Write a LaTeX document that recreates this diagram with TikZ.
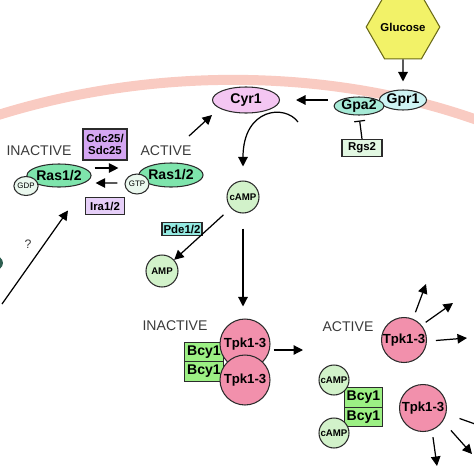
\documentclass[tikz,border=0pt]{standalone}
\usepackage{fontspec}
\setmainfont{Liberation Sans}
\usetikzlibrary{shapes.geometric}
\usetikzlibrary{arrows.meta}

\definecolor{membr}{HTML}{F9CBC2}
\definecolor{edgec}{HTML}{2B2B2B}
\definecolor{glcfill}{HTML}{F2F268}
\definecolor{glcdraw}{HTML}{6A6A18}
\definecolor{cyrfill}{HTML}{F4C6F2}
\definecolor{gpafill}{HTML}{A6EAD6}
\definecolor{gprfill}{HTML}{CDF4F4}
\definecolor{rgsfill}{HTML}{E2F8E2}
\definecolor{cdcfill}{HTML}{D4A6F2}
\definecolor{irafill}{HTML}{E6CFF8}
\definecolor{rasfill}{HTML}{7EE4AC}
\definecolor{nucfill}{HTML}{EAF8EE}
\definecolor{campfill}{HTML}{D2F2CA}
\definecolor{pdefill}{HTML}{94EAE2}
\definecolor{tpkfill}{HTML}{F290AC}
\definecolor{bcyfill}{HTML}{9CF084}
\definecolor{lbl}{HTML}{3A3A3A}
\definecolor{blob}{HTML}{2E5E50}

\newcommand\fsz[1]{\fontsize{#1}{#1}\selectfont}

\begin{document}
\begin{tikzpicture}[x=0.02cm, y=-0.02cm,
  prot/.style={draw=edgec, ellipse, inner sep=0pt, line width=.6pt, font=\bfseries\fsz{8pt}},
  ball/.style={draw=edgec, circle, inner sep=0pt, line width=.6pt, fill=campfill, font=\bfseries\fsz{5.5pt}},
  tpk/.style={draw=edgec, circle, inner sep=0pt, line width=.6pt, fill=tpkfill, font=\bfseries\fsz{7.5pt}},
  reg/.style={draw=edgec, rectangle, inner sep=1pt, line width=.6pt, font=\bfseries\fsz{6.5pt}},
  bcy/.style={draw=edgec, rectangle, inner sep=0pt, line width=.6pt, fill=bcyfill,
    minimum width=0.77cm, minimum height=0.39cm, font=\bfseries\fsz{8pt}},
  state/.style={text=lbl, font=\fsz{8pt}, inner sep=0pt}]
\def\l{1.9mm}
\def\w{1.9mm}
\useasboundingbox (0,0) rectangle (474,474);
% plasma membrane
\draw [membr, line width=0.2cm] (-5,116) .. controls (150,67) and (330,67) .. (480,121);
% receptor side
\node [draw=glcdraw, fill=glcfill, regular polygon, regular polygon sides=6, minimum size=1.1cm,
  inner sep=0pt, line width=.6pt, font=\bfseries\fsz{6.5pt}, name=glc] at (403,27) {Glucose};
\node [prot, fill=cyrfill, minimum width=1.34cm, minimum height=0.52cm, name=cyr] at (246,100) {Cyr1};
\node [prot, fill=gprfill, minimum width=0.94cm, minimum height=0.40cm, name=gpr] at (403,100) {Gpr1};
\node [prot, fill=gpafill, minimum width=0.84cm, minimum height=0.34cm, name=gpa] at (359,106) {Gpa2};
\node [reg, fill=rgsfill, minimum width=0.8cm, minimum height=0.34cm, name=rgs] at (362,148) {Rgs2};
% Ras cycle
\node [state, name=inact1] at (39,151) {INACTIVE};
\node [state, name=act1] at (166,151) {ACTIVE};
\node [reg, fill=cdcfill, minimum width=0.88cm, minimum height=0.62cm, align=center, name=cdc] at (105,144.5) {Cdc25/\\Sdc25};
\node [reg, fill=irafill, minimum width=0.78cm, minimum height=0.34cm, name=ira] at (105,206) {Ira1/2};
\node [prot, fill=rasfill, minimum width=1.12cm, minimum height=0.46cm, name=rasI] at (59,175.5) {Ras1/2};
\node [prot, fill=rasfill, minimum width=1.14cm, minimum height=0.48cm, name=rasA] at (171,175) {Ras1/2};
\node [draw=edgec, ellipse, fill=nucfill, inner sep=0pt, line width=.6pt, minimum width=0.48cm,
  minimum height=0.38cm, font=\fsz{4.5pt}, name=gdp] at (26,186) {GDP};
\node [draw=edgec, ellipse, fill=nucfill, inner sep=0pt, line width=.6pt, minimum width=0.48cm,
  minimum height=0.40cm, font=\fsz{4.5pt}, name=gtp] at (137,184) {GTP};
\node [draw=none, ellipse, fill=blob, minimum width=0.44cm, minimum height=0.32cm, name=blb] at (-8,263) {};
\node [text=lbl, font=\fsz{7pt}, inner sep=0pt, name=qm] at (28,244) {?};
\coordinate (q0) at (2,304);
% cAMP
\coordinate (atp) at (298,122);
\node [ball, minimum size=0.64cm, name=camp] at (243,197) {cAMP};
\node [reg, fill=pdefill, minimum width=0.8cm, minimum height=0.27cm, inner sep=0pt, name=pde] at (182,229) {Pde1/2};
\node [ball, minimum size=0.64cm, name=amp] at (162,271) {AMP};
% PKA
\node [state, name=inact2] at (175,326) {INACTIVE};
\node [state, name=act2] at (348,327) {ACTIVE};
\node [bcy, name=bcy1] at (204,352.5) {Bcy1};
\node [bcy, name=bcy2] at (204,371.5) {Bcy1};
\node [tpk, minimum size=1cm, name=tpk1] at (245,344) {Tpk1-3};
\node [tpk, minimum size=1cm, name=tpk2] at (245,380) {Tpk1-3};
\node [bcy, name=bcy3] at (363.5,397.5) {Bcy1};
\node [bcy, name=bcy4] at (363.5,417) {Bcy1};
\node [ball, minimum size=0.6cm, name=camp1] at (334,380) {cAMP};
\node [ball, minimum size=0.6cm, name=camp2] at (334,433) {cAMP};
\node [tpk, minimum size=0.9cm, name=tpkA] at (404,340) {Tpk1-3};
\node [tpk, minimum size=0.94cm, name=tpkB] at (423,408) {Tpk1-3};
\coordinate (rel) at (303,350);
\coordinate (o1) at (426,284);
\coordinate (o2) at (453,303);
\coordinate (o3) at (467,338);
\coordinate (o4) at (437,466);
\coordinate (o5) at (472,454);
\coordinate (o6) at (492,430);
% connectors
\draw [line width=.7pt, -{Triangle[length=\l, width=\w]}, shorten >=0.16cm] (glc.south) -- (gpr.north);
\draw [line width=.7pt, -{Triangle[length=\l, width=\w]}] ([shift={(-6,-6)}]gpa.west) -- ([shift={(16,0)}]cyr.east);
\draw [line width=.7pt, -{Bar[width=2.2mm]}, shorten >=0.1cm] (rgs.north) -- (gpa.south);
\draw [line width=.7pt, -{Triangle[length=\l, width=\w]}] ([shift={(3,-7.5)}]rasI.east) -- ([shift={(-20,-7)}]rasA.west);
\draw [line width=.7pt, -{Triangle[length=\l, width=\w]}] ([shift={(-21,8)}]rasA.west) -- ([shift={(4,7.5)}]rasI.east);
\draw [line width=.7pt, -{Triangle[length=\l, width=\w]}] ([shift={(18,-39)}]rasA.center) -- ([shift={(-34,15)}]cyr.center);
\draw [line width=.7pt, -{Triangle[length=\l, width=\w]}] (q0) -- ([shift={(9,35)}]rasI.center);
\draw [line width=.7pt, -{Triangle[length=\l, width=\w]}, shorten >=0.28cm] (atp) .. controls (285,104) and (243,108) .. (camp.north);
\draw [line width=.7pt, -{Triangle[length=\l, width=\w]}, shorten <=0.2cm] (camp) -- (amp);
\draw [line width=.7pt, -{Triangle[length=\l, width=\w]}, shorten <=0.3cm, shorten >=0.24cm] (camp.south) -- (camp.south |- tpk1.north);
\draw [line width=.7pt, -{Triangle[length=\l, width=\w]}] ([shift={(3,6)}]tpk1.east) -- (rel);
\draw [line width=.7pt, -{Triangle[length=\l, width=\w]}, shorten <=0.14cm] (tpkA.67) -- (o1);
\draw [line width=.7pt, -{Triangle[length=\l, width=\w]}, shorten <=0.1cm] (tpkA.40) -- (o2);
\draw [line width=.7pt, -{Triangle[length=\l, width=\w]}, shorten <=0.18cm] (tpkA.-3) -- (o3);
\draw [line width=.7pt, -{Triangle[length=\l, width=\w]}, shorten <=0.14cm] (tpkB.-68) -- (o4);
\draw [line width=.7pt, -{Triangle[length=\l, width=\w]}, shorten <=0.24cm] (tpkB.-34) -- (o5);
\draw [line width=.7pt, -{Triangle[length=\l, width=\w]}, shorten <=0.28cm] (tpkB.-14) -- (o6);
\end{tikzpicture}
\end{document}
